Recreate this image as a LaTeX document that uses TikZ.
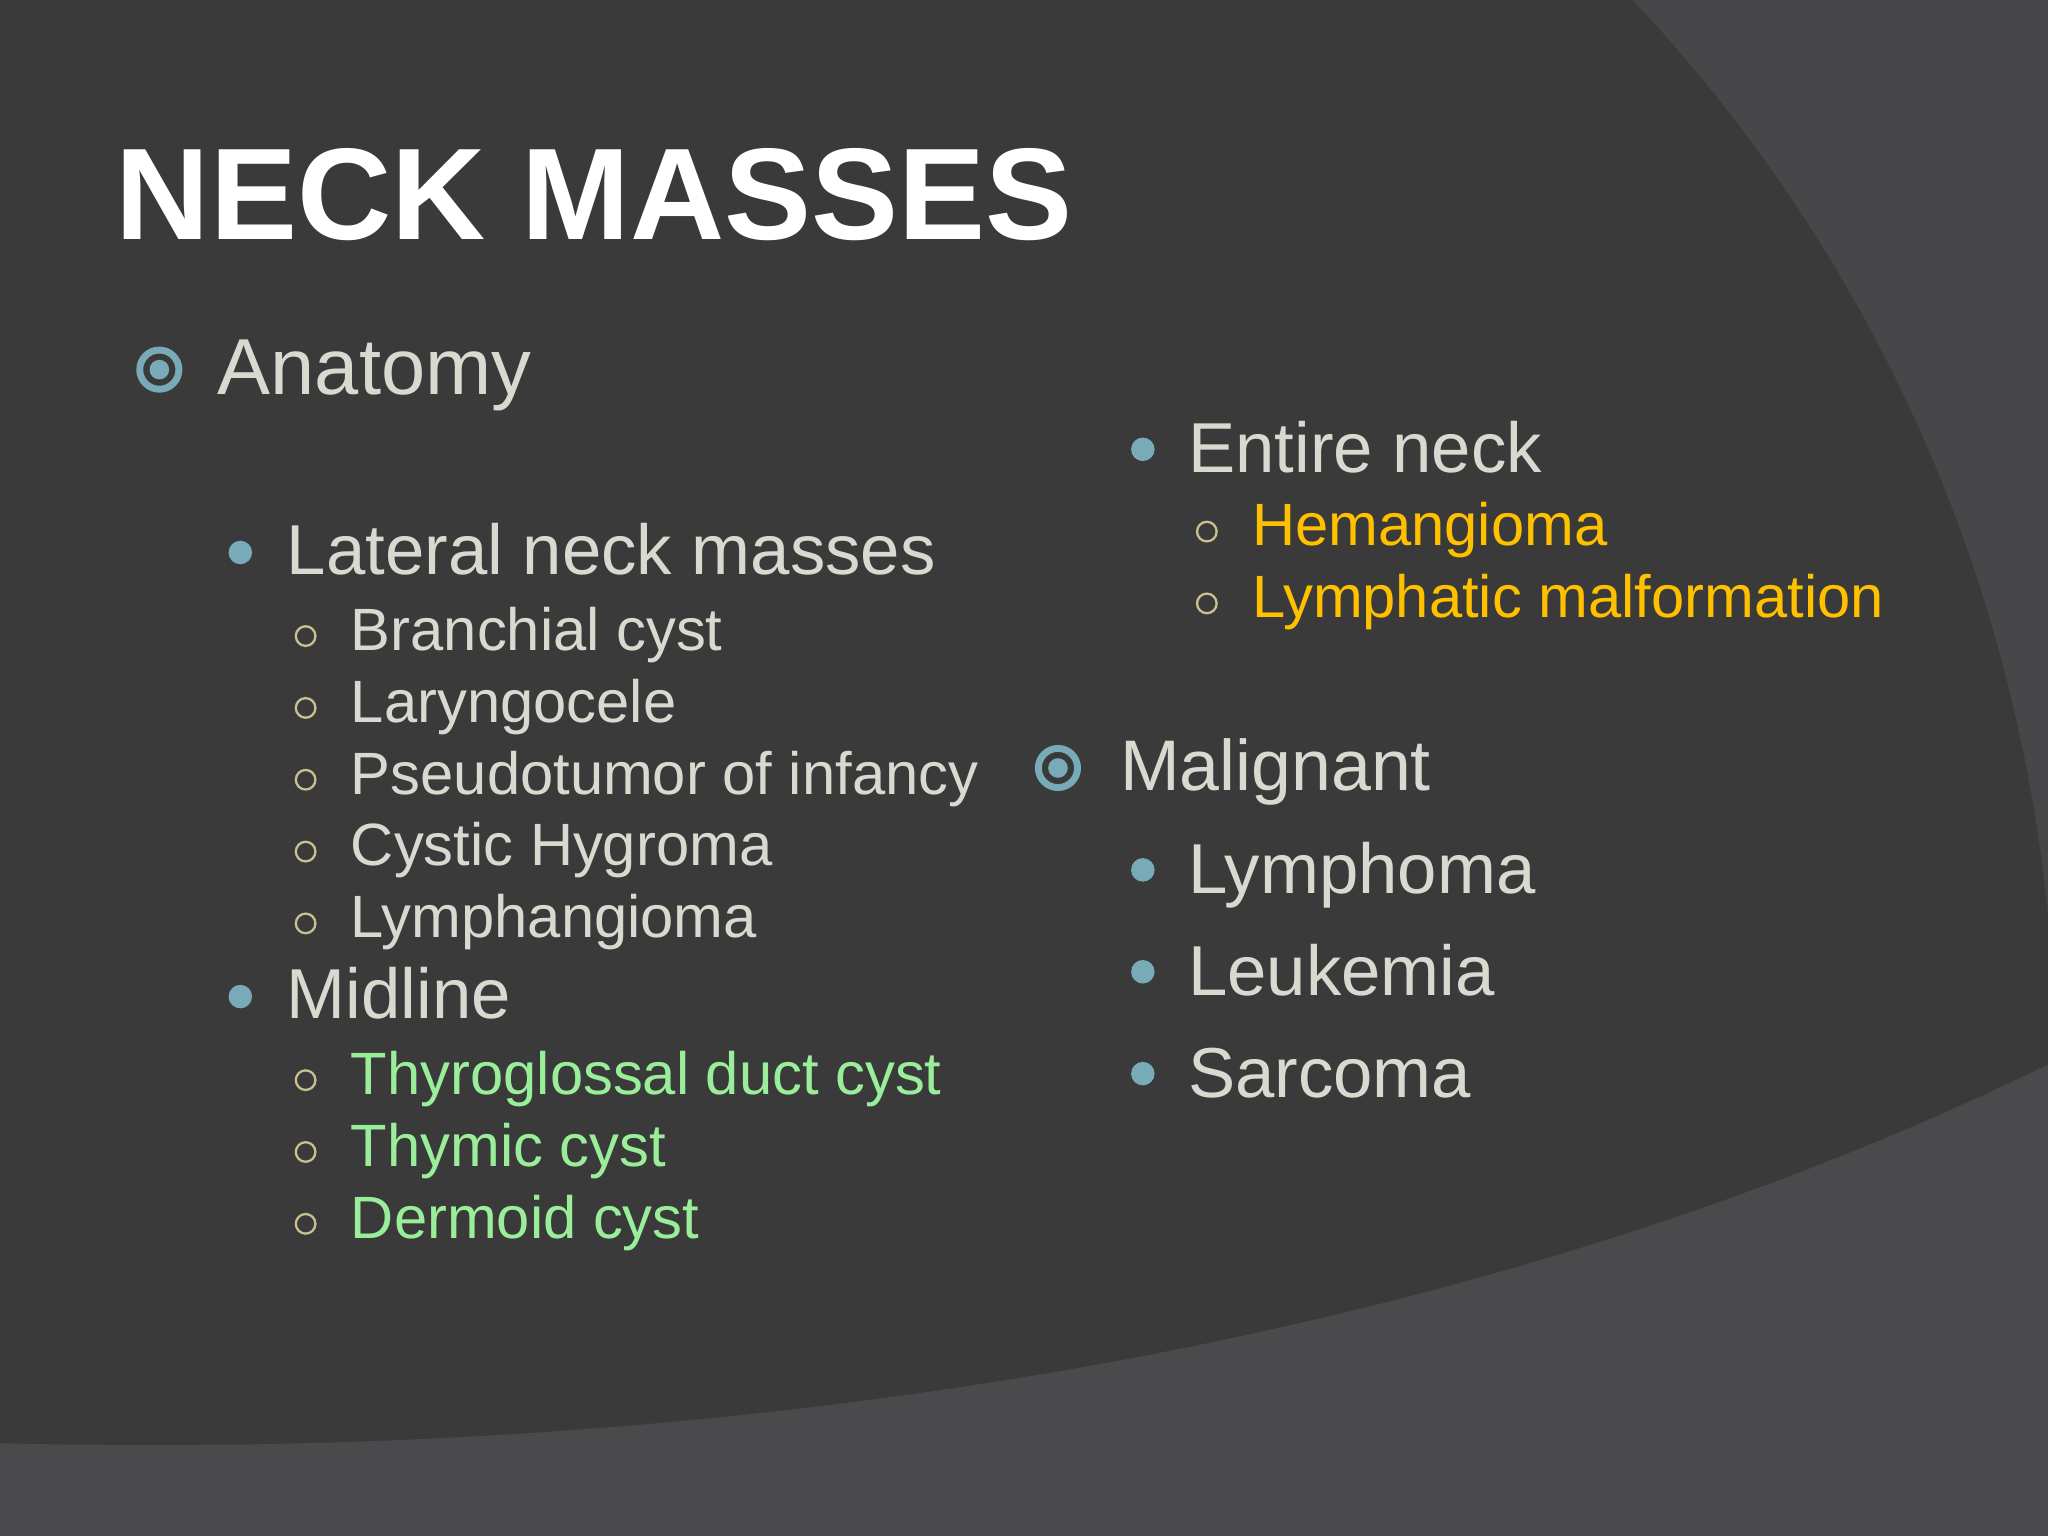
\documentclass[tikz,border=0pt]{standalone}
\usepackage{fontspec}
\setmainfont{Liberation Sans}
\definecolor{bg}{HTML}{3A3A3B}
\definecolor{bgl}{HTML}{4A494B}
\definecolor{txt}{HTML}{D9D9D0}
\definecolor{grn}{HTML}{9AEE9A}
\definecolor{ylw}{HTML}{FFC000}
\definecolor{bul}{HTML}{78AAB8}
\definecolor{sub}{HTML}{C8C090}
\begin{document}
\begin{tikzpicture}[x=0.01cm,y=-0.01cm,
  lvA/.style={anchor=base west,text=txt,font=\fontsize{17.3}{20}\selectfont,inner sep=0},
  lvM/.style={anchor=base west,text=txt,font=\fontsize{15.6}{19}\selectfont,inner sep=0},
  lvB/.style={anchor=base west,text=txt,font=\fontsize{15.4}{19}\selectfont,inner sep=0},
  lvC/.style={anchor=base west,text=txt,font=\fontsize{13}{16}\selectfont,inner sep=0}]
\fill[bg] (0,0) rectangle (1568,1176);
\useasboundingbox (0,0) rectangle (1568,1176);
\fill[bgl!80!bg] (1250,0) .. controls (1420,180) and (1540,420) .. (1568,700) -- (1568,0) -- cycle;
\fill[bgl] (0,1105) .. controls (600,1120) and (1150,1020) .. (1568,815) -- (1568,1176) -- (0,1176) -- cycle;
\node[anchor=base west,inner sep=0,text=white,font=\bfseries\fontsize{28.4}{33}\selectfont] (title) at (88,183) {NECK MASSES};
% target bullets
\foreach \x/\y in {122/283,810/588}{
  \draw[bul,line width=1.5pt] (\x,\y) circle (15);
  \fill[bul] (\x,\y) circle (7.5);}
\node[lvA] (anat) at (166,302) {Anatomy};
\node[lvM] (mal) at (857,605) {Malignant};
% dots
\foreach \x/\y in {184/423,184/763,875/344,875/666,875/744,875/822} \fill[bul] (\x,\y) circle (9);
\node[lvB] (lat) at (219,440) {Lateral neck masses};
\node[lvB] (mid) at (219,780) {Midline};
\node[lvB] (ent) at (909,362) {Entire neck};
\node[lvB] (lym) at (909,684) {Lymphoma};
\node[lvB] (leu) at (909,762) {Leukemia};
\node[lvB] (sar) at (909,840) {Sarcoma};
% small circles
\foreach \x/\y in {234/487,234/542,234/597,234/652,234/707,234/827,234/882,234/937,924/407,924/462} \draw[sub,line width=0.5pt] (\x,\y) circle (7.5);
\node[lvC] (a1) at (268,498) {Branchial cyst};
\node[lvC] (a2) at (268,553) {Laryngocele};
\node[lvC] (a3) at (268,608) {Pseudotumor of infancy};
\node[lvC] (a4) at (268,663) {Cystic Hygroma};
\node[lvC] (a5) at (268,718) {Lymphangioma};
\node[lvC,text=grn] (m1) at (268,838) {Thyroglossal duct cyst};
\node[lvC,text=grn] (m2) at (268,893) {Thymic cyst};
\node[lvC,text=grn] (m3) at (268,948) {Dermoid cyst};
\node[lvC,text=ylw] (e1) at (958,418) {Hemangioma};
\node[lvC,text=ylw] (e2) at (958,473) {Lymphatic malformation};
\end{tikzpicture}
\end{document}
